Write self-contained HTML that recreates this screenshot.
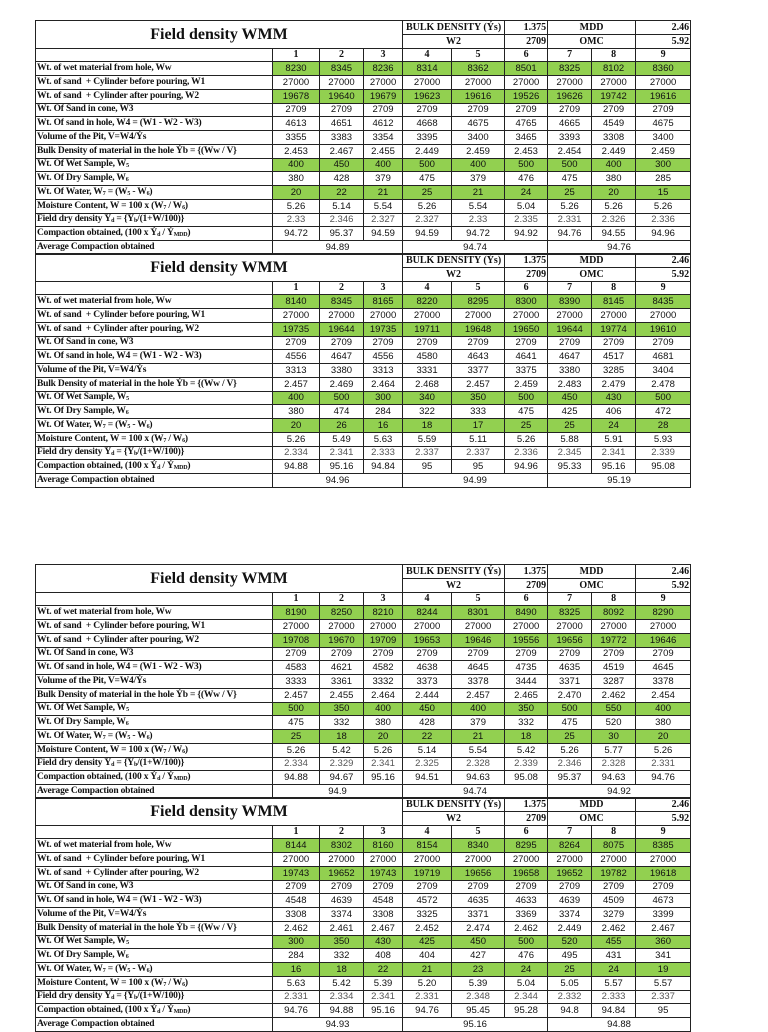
<!DOCTYPE html>
<html><head><meta charset="utf-8"><style>
body{margin:0;width:768px;height:1024px;background:#fff;overflow:hidden;position:relative}
table{position:absolute;left:35px;border-collapse:collapse;table-layout:fixed;width:656px;font-family:"Liberation Sans",sans-serif;font-size:9.5px;color:#111}
td{border:1px solid #222;padding:0;height:12.76px;line-height:11px;text-align:center;white-space:nowrap;overflow:hidden}
td.l{text-align:left;font-family:"Liberation Serif",serif;font-weight:bold;font-size:9.5px;padding-left:1px;letter-spacing:-0.2px}
td.t{font-family:"Liberation Serif",serif;font-weight:bold;font-size:16px;border-right:1px solid #222}
td.h{font-family:"Liberation Serif",serif;font-weight:bold;font-size:10px}
td.r{text-align:right;font-family:"Liberation Serif",serif;font-weight:bold;font-size:10px;padding-right:1px}
tr.n td{font-family:"Liberation Serif",serif;font-weight:bold;font-size:10px}
tr.g td:not(.l){background:#92d050}
tr.y td:not(.l){color:#555}
sub{font-size:6px;vertical-align:-1px;line-height:0}
</style></head><body>
<table style="top:20px">
<colgroup><col style="width:237px"><col style="width:47px"><col style="width:44px"><col style="width:39px"><col style="width:49px"><col style="width:53px"><col style="width:43px"><col style="width:44px"><col style="width:44px"><col style="width:55px"></colgroup>
<tr><td class="t" colspan="4" rowspan="2">Field density WMM</td><td class="h" colspan="2">BULK DENSITY (Ýs)</td><td class="r">1.375</td><td class="h" colspan="2">MDD</td><td class="r">2.46</td></tr>
<tr><td class="h" colspan="2">W2</td><td class="r">2709</td><td class="h" colspan="2">OMC</td><td class="r">5.92</td></tr>
<tr class="n"><td></td><td>1</td><td>2</td><td>3</td><td>4</td><td>5</td><td>6</td><td>7</td><td>8</td><td>9</td></tr>
<tr class="g"><td class="l">Wt. of wet material from hole, Ww</td><td>8230</td><td>8345</td><td>8236</td><td>8314</td><td>8362</td><td>8501</td><td>8325</td><td>8102</td><td>8360</td></tr>
<tr><td class="l">Wt. of sand &nbsp;+ Cylinder before pouring, W1</td><td>27000</td><td>27000</td><td>27000</td><td>27000</td><td>27000</td><td>27000</td><td>27000</td><td>27000</td><td>27000</td></tr>
<tr class="g"><td class="l">Wt. of sand &nbsp;+ Cylinder after pouring, W2</td><td>19678</td><td>19640</td><td>19679</td><td>19623</td><td>19616</td><td>19526</td><td>19626</td><td>19742</td><td>19616</td></tr>
<tr><td class="l">Wt. Of Sand in cone, W3</td><td>2709</td><td>2709</td><td>2709</td><td>2709</td><td>2709</td><td>2709</td><td>2709</td><td>2709</td><td>2709</td></tr>
<tr><td class="l">Wt. Of sand in hole, W4 = (W1 - W2 - W3)</td><td>4613</td><td>4651</td><td>4612</td><td>4668</td><td>4675</td><td>4765</td><td>4665</td><td>4549</td><td>4675</td></tr>
<tr><td class="l">Volume of the Pit, V=W4/Ýs</td><td>3355</td><td>3383</td><td>3354</td><td>3395</td><td>3400</td><td>3465</td><td>3393</td><td>3308</td><td>3400</td></tr>
<tr><td class="l">Bulk Density of material in the hole Ýb = {(Ww / V}</td><td>2.453</td><td>2.467</td><td>2.455</td><td>2.449</td><td>2.459</td><td>2.453</td><td>2.454</td><td>2.449</td><td>2.459</td></tr>
<tr class="g"><td class="l">Wt. Of Wet Sample, W<sub>5</sub></td><td>400</td><td>450</td><td>400</td><td>500</td><td>400</td><td>500</td><td>500</td><td>400</td><td>300</td></tr>
<tr><td class="l">Wt. Of Dry Sample, W<sub>6</sub></td><td>380</td><td>428</td><td>379</td><td>475</td><td>379</td><td>476</td><td>475</td><td>380</td><td>285</td></tr>
<tr class="g"><td class="l">Wt. Of Water, W<sub>7</sub> = (W<sub>5</sub> - W<sub>6</sub>)</td><td>20</td><td>22</td><td>21</td><td>25</td><td>21</td><td>24</td><td>25</td><td>20</td><td>15</td></tr>
<tr><td class="l">Moisture Content, W = 100 x (W<sub>7</sub> / W<sub>6</sub>)</td><td>5.26</td><td>5.14</td><td>5.54</td><td>5.26</td><td>5.54</td><td>5.04</td><td>5.26</td><td>5.26</td><td>5.26</td></tr>
<tr class="y"><td class="l">Field dry density Ý<sub>d</sub> = {Ý<sub>b</sub>/(1+W/100)}</td><td>2.33</td><td>2.346</td><td>2.327</td><td>2.327</td><td>2.33</td><td>2.335</td><td>2.331</td><td>2.326</td><td>2.336</td></tr>
<tr><td class="l">Compaction obtained, (100 x Ý<sub>d</sub> / Ý<sub>MDD</sub>)</td><td>94.72</td><td>95.37</td><td>94.59</td><td>94.59</td><td>94.72</td><td>94.92</td><td>94.76</td><td>94.55</td><td>94.96</td></tr>
<tr><td class="l">Average Compaction obtained</td><td colspan="3">94.89</td><td colspan="3">94.74</td><td colspan="3">94.76</td></tr>
</table>

<table style="top:253px">
<colgroup><col style="width:237px"><col style="width:47px"><col style="width:44px"><col style="width:39px"><col style="width:49px"><col style="width:53px"><col style="width:43px"><col style="width:44px"><col style="width:44px"><col style="width:55px"></colgroup>
<tr><td class="t" colspan="4" rowspan="2">Field density WMM</td><td class="h" colspan="2">BULK DENSITY (Ýs)</td><td class="r">1.375</td><td class="h" colspan="2">MDD</td><td class="r">2.46</td></tr>
<tr><td class="h" colspan="2">W2</td><td class="r">2709</td><td class="h" colspan="2">OMC</td><td class="r">5.92</td></tr>
<tr class="n"><td></td><td>1</td><td>2</td><td>3</td><td>4</td><td>5</td><td>6</td><td>7</td><td>8</td><td>9</td></tr>
<tr class="g"><td class="l">Wt. of wet material from hole, Ww</td><td>8140</td><td>8345</td><td>8165</td><td>8220</td><td>8295</td><td>8300</td><td>8390</td><td>8145</td><td>8435</td></tr>
<tr><td class="l">Wt. of sand &nbsp;+ Cylinder before pouring, W1</td><td>27000</td><td>27000</td><td>27000</td><td>27000</td><td>27000</td><td>27000</td><td>27000</td><td>27000</td><td>27000</td></tr>
<tr class="g"><td class="l">Wt. of sand &nbsp;+ Cylinder after pouring, W2</td><td>19735</td><td>19644</td><td>19735</td><td>19711</td><td>19648</td><td>19650</td><td>19644</td><td>19774</td><td>19610</td></tr>
<tr><td class="l">Wt. Of Sand in cone, W3</td><td>2709</td><td>2709</td><td>2709</td><td>2709</td><td>2709</td><td>2709</td><td>2709</td><td>2709</td><td>2709</td></tr>
<tr><td class="l">Wt. Of sand in hole, W4 = (W1 - W2 - W3)</td><td>4556</td><td>4647</td><td>4556</td><td>4580</td><td>4643</td><td>4641</td><td>4647</td><td>4517</td><td>4681</td></tr>
<tr><td class="l">Volume of the Pit, V=W4/Ýs</td><td>3313</td><td>3380</td><td>3313</td><td>3331</td><td>3377</td><td>3375</td><td>3380</td><td>3285</td><td>3404</td></tr>
<tr><td class="l">Bulk Density of material in the hole Ýb = {(Ww / V}</td><td>2.457</td><td>2.469</td><td>2.464</td><td>2.468</td><td>2.457</td><td>2.459</td><td>2.483</td><td>2.479</td><td>2.478</td></tr>
<tr class="g"><td class="l">Wt. Of Wet Sample, W<sub>5</sub></td><td>400</td><td>500</td><td>300</td><td>340</td><td>350</td><td>500</td><td>450</td><td>430</td><td>500</td></tr>
<tr><td class="l">Wt. Of Dry Sample, W<sub>6</sub></td><td>380</td><td>474</td><td>284</td><td>322</td><td>333</td><td>475</td><td>425</td><td>406</td><td>472</td></tr>
<tr class="g"><td class="l">Wt. Of Water, W<sub>7</sub> = (W<sub>5</sub> - W<sub>6</sub>)</td><td>20</td><td>26</td><td>16</td><td>18</td><td>17</td><td>25</td><td>25</td><td>24</td><td>28</td></tr>
<tr><td class="l">Moisture Content, W = 100 x (W<sub>7</sub> / W<sub>6</sub>)</td><td>5.26</td><td>5.49</td><td>5.63</td><td>5.59</td><td>5.11</td><td>5.26</td><td>5.88</td><td>5.91</td><td>5.93</td></tr>
<tr class="y"><td class="l">Field dry density Ý<sub>d</sub> = {Ý<sub>b</sub>/(1+W/100)}</td><td>2.334</td><td>2.341</td><td>2.333</td><td>2.337</td><td>2.337</td><td>2.336</td><td>2.345</td><td>2.341</td><td>2.339</td></tr>
<tr><td class="l">Compaction obtained, (100 x Ý<sub>d</sub> / Ý<sub>MDD</sub>)</td><td>94.88</td><td>95.16</td><td>94.84</td><td>95</td><td>95</td><td>94.96</td><td>95.33</td><td>95.16</td><td>95.08</td></tr>
<tr><td class="l">Average Compaction obtained</td><td colspan="3">94.96</td><td colspan="3">94.99</td><td colspan="3">95.19</td></tr>
</table>

<table style="top:564px">
<colgroup><col style="width:237px"><col style="width:47px"><col style="width:44px"><col style="width:39px"><col style="width:49px"><col style="width:53px"><col style="width:43px"><col style="width:44px"><col style="width:44px"><col style="width:55px"></colgroup>
<tr><td class="t" colspan="4" rowspan="2">Field density WMM</td><td class="h" colspan="2">BULK DENSITY (Ýs)</td><td class="r">1.375</td><td class="h" colspan="2">MDD</td><td class="r">2.46</td></tr>
<tr><td class="h" colspan="2">W2</td><td class="r">2709</td><td class="h" colspan="2">OMC</td><td class="r">5.92</td></tr>
<tr class="n"><td></td><td>1</td><td>2</td><td>3</td><td>4</td><td>5</td><td>6</td><td>7</td><td>8</td><td>9</td></tr>
<tr class="g"><td class="l">Wt. of wet material from hole, Ww</td><td>8190</td><td>8250</td><td>8210</td><td>8244</td><td>8301</td><td>8490</td><td>8325</td><td>8092</td><td>8290</td></tr>
<tr><td class="l">Wt. of sand &nbsp;+ Cylinder before pouring, W1</td><td>27000</td><td>27000</td><td>27000</td><td>27000</td><td>27000</td><td>27000</td><td>27000</td><td>27000</td><td>27000</td></tr>
<tr class="g"><td class="l">Wt. of sand &nbsp;+ Cylinder after pouring, W2</td><td>19708</td><td>19670</td><td>19709</td><td>19653</td><td>19646</td><td>19556</td><td>19656</td><td>19772</td><td>19646</td></tr>
<tr><td class="l">Wt. Of Sand in cone, W3</td><td>2709</td><td>2709</td><td>2709</td><td>2709</td><td>2709</td><td>2709</td><td>2709</td><td>2709</td><td>2709</td></tr>
<tr><td class="l">Wt. Of sand in hole, W4 = (W1 - W2 - W3)</td><td>4583</td><td>4621</td><td>4582</td><td>4638</td><td>4645</td><td>4735</td><td>4635</td><td>4519</td><td>4645</td></tr>
<tr><td class="l">Volume of the Pit, V=W4/Ýs</td><td>3333</td><td>3361</td><td>3332</td><td>3373</td><td>3378</td><td>3444</td><td>3371</td><td>3287</td><td>3378</td></tr>
<tr><td class="l">Bulk Density of material in the hole Ýb = {(Ww / V}</td><td>2.457</td><td>2.455</td><td>2.464</td><td>2.444</td><td>2.457</td><td>2.465</td><td>2.470</td><td>2.462</td><td>2.454</td></tr>
<tr class="g"><td class="l">Wt. Of Wet Sample, W<sub>5</sub></td><td>500</td><td>350</td><td>400</td><td>450</td><td>400</td><td>350</td><td>500</td><td>550</td><td>400</td></tr>
<tr><td class="l">Wt. Of Dry Sample, W<sub>6</sub></td><td>475</td><td>332</td><td>380</td><td>428</td><td>379</td><td>332</td><td>475</td><td>520</td><td>380</td></tr>
<tr class="g"><td class="l">Wt. Of Water, W<sub>7</sub> = (W<sub>5</sub> - W<sub>6</sub>)</td><td>25</td><td>18</td><td>20</td><td>22</td><td>21</td><td>18</td><td>25</td><td>30</td><td>20</td></tr>
<tr><td class="l">Moisture Content, W = 100 x (W<sub>7</sub> / W<sub>6</sub>)</td><td>5.26</td><td>5.42</td><td>5.26</td><td>5.14</td><td>5.54</td><td>5.42</td><td>5.26</td><td>5.77</td><td>5.26</td></tr>
<tr class="y"><td class="l">Field dry density Ý<sub>d</sub> = {Ý<sub>b</sub>/(1+W/100)}</td><td>2.334</td><td>2.329</td><td>2.341</td><td>2.325</td><td>2.328</td><td>2.339</td><td>2.346</td><td>2.328</td><td>2.331</td></tr>
<tr><td class="l">Compaction obtained, (100 x Ý<sub>d</sub> / Ý<sub>MDD</sub>)</td><td>94.88</td><td>94.67</td><td>95.16</td><td>94.51</td><td>94.63</td><td>95.08</td><td>95.37</td><td>94.63</td><td>94.76</td></tr>
<tr><td class="l">Average Compaction obtained</td><td colspan="3">94.9</td><td colspan="3">94.74</td><td colspan="3">94.92</td></tr>
</table>

<table style="top:797px">
<colgroup><col style="width:237px"><col style="width:47px"><col style="width:44px"><col style="width:39px"><col style="width:49px"><col style="width:53px"><col style="width:43px"><col style="width:44px"><col style="width:44px"><col style="width:55px"></colgroup>
<tr><td class="t" colspan="4" rowspan="2">Field density WMM</td><td class="h" colspan="2">BULK DENSITY (Ýs)</td><td class="r">1.375</td><td class="h" colspan="2">MDD</td><td class="r">2.46</td></tr>
<tr><td class="h" colspan="2">W2</td><td class="r">2709</td><td class="h" colspan="2">OMC</td><td class="r">5.92</td></tr>
<tr class="n"><td></td><td>1</td><td>2</td><td>3</td><td>4</td><td>5</td><td>6</td><td>7</td><td>8</td><td>9</td></tr>
<tr class="g"><td class="l">Wt. of wet material from hole, Ww</td><td>8144</td><td>8302</td><td>8160</td><td>8154</td><td>8340</td><td>8295</td><td>8264</td><td>8075</td><td>8385</td></tr>
<tr><td class="l">Wt. of sand &nbsp;+ Cylinder before pouring, W1</td><td>27000</td><td>27000</td><td>27000</td><td>27000</td><td>27000</td><td>27000</td><td>27000</td><td>27000</td><td>27000</td></tr>
<tr class="g"><td class="l">Wt. of sand &nbsp;+ Cylinder after pouring, W2</td><td>19743</td><td>19652</td><td>19743</td><td>19719</td><td>19656</td><td>19658</td><td>19652</td><td>19782</td><td>19618</td></tr>
<tr><td class="l">Wt. Of Sand in cone, W3</td><td>2709</td><td>2709</td><td>2709</td><td>2709</td><td>2709</td><td>2709</td><td>2709</td><td>2709</td><td>2709</td></tr>
<tr><td class="l">Wt. Of sand in hole, W4 = (W1 - W2 - W3)</td><td>4548</td><td>4639</td><td>4548</td><td>4572</td><td>4635</td><td>4633</td><td>4639</td><td>4509</td><td>4673</td></tr>
<tr><td class="l">Volume of the Pit, V=W4/Ýs</td><td>3308</td><td>3374</td><td>3308</td><td>3325</td><td>3371</td><td>3369</td><td>3374</td><td>3279</td><td>3399</td></tr>
<tr><td class="l">Bulk Density of material in the hole Ýb = {(Ww / V}</td><td>2.462</td><td>2.461</td><td>2.467</td><td>2.452</td><td>2.474</td><td>2.462</td><td>2.449</td><td>2.462</td><td>2.467</td></tr>
<tr class="g"><td class="l">Wt. Of Wet Sample, W<sub>5</sub></td><td>300</td><td>350</td><td>430</td><td>425</td><td>450</td><td>500</td><td>520</td><td>455</td><td>360</td></tr>
<tr><td class="l">Wt. Of Dry Sample, W<sub>6</sub></td><td>284</td><td>332</td><td>408</td><td>404</td><td>427</td><td>476</td><td>495</td><td>431</td><td>341</td></tr>
<tr class="g"><td class="l">Wt. Of Water, W<sub>7</sub> = (W<sub>5</sub> - W<sub>6</sub>)</td><td>16</td><td>18</td><td>22</td><td>21</td><td>23</td><td>24</td><td>25</td><td>24</td><td>19</td></tr>
<tr><td class="l">Moisture Content, W = 100 x (W<sub>7</sub> / W<sub>6</sub>)</td><td>5.63</td><td>5.42</td><td>5.39</td><td>5.20</td><td>5.39</td><td>5.04</td><td>5.05</td><td>5.57</td><td>5.57</td></tr>
<tr class="y"><td class="l">Field dry density Ý<sub>d</sub> = {Ý<sub>b</sub>/(1+W/100)}</td><td>2.331</td><td>2.334</td><td>2.341</td><td>2.331</td><td>2.348</td><td>2.344</td><td>2.332</td><td>2.333</td><td>2.337</td></tr>
<tr><td class="l">Compaction obtained, (100 x Ý<sub>d</sub> / Ý<sub>MDD</sub>)</td><td>94.76</td><td>94.88</td><td>95.16</td><td>94.76</td><td>95.45</td><td>95.28</td><td>94.8</td><td>94.84</td><td>95</td></tr>
<tr><td class="l">Average Compaction obtained</td><td colspan="3">94.93</td><td colspan="3">95.16</td><td colspan="3">94.88</td></tr>
</table>
</body></html>
